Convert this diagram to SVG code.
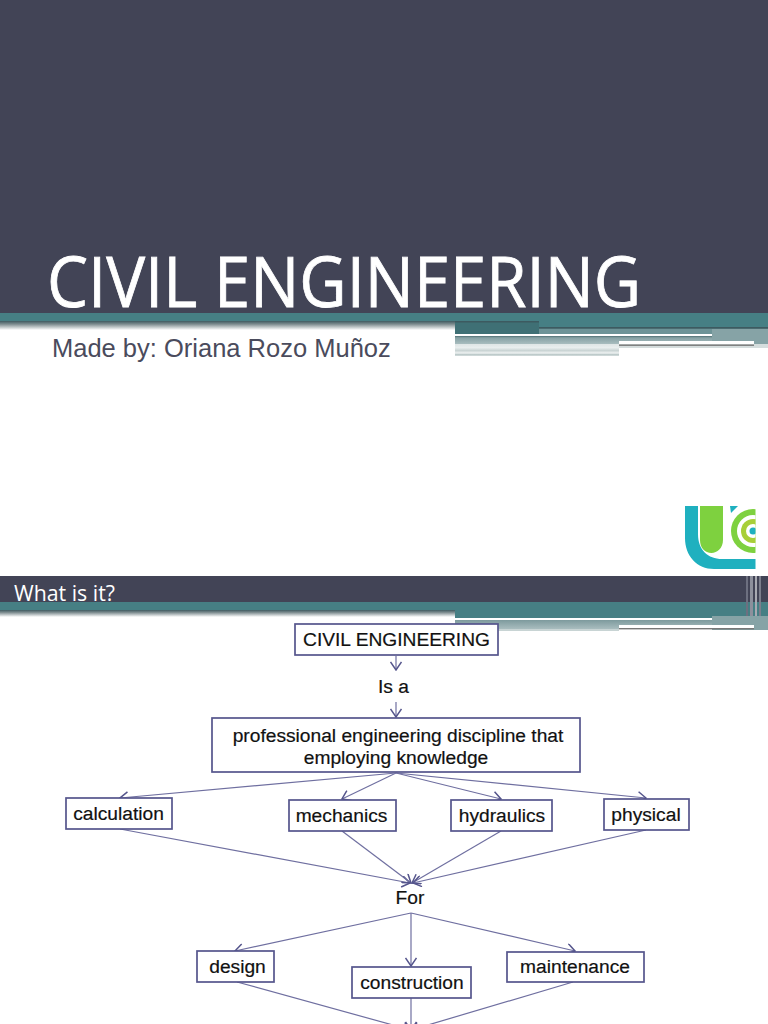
<svg xmlns="http://www.w3.org/2000/svg" width="768" height="1024" viewBox="0 0 768 1024">
<style>
.box{fill:#fff;stroke:#55558c;stroke-width:1.7}
.lbl{font-family:"Liberation Sans",Arial,sans-serif;font-size:19.2px;fill:#111;stroke:#111;stroke-width:.2;text-anchor:middle}
.con{fill:none;stroke:#6f6fa0;stroke-width:1.2;marker-end:url(#arr)}
.dark{fill:#424456}
.teal{fill:#467f84}
.gt{fill:#86a3a6}
.wh{fill:#fff}
.ln{fill:#3d5a60}
</style>
<defs>
<marker id="arr" viewBox="0 0 12 12" refX="11" refY="6" markerWidth="12" markerHeight="12" markerUnits="userSpaceOnUse" orient="auto"><path d="M3 .5L11 6L3 11.500" fill="none" stroke="#55558c" stroke-width="1.5"/></marker>
<linearGradient id="sh" x1="0" y1="0" x2="0" y2="1"><stop offset="0" stop-color="#3f5a60"/><stop offset=".35" stop-color="#7d8c8f"/><stop offset="1" stop-color="#fff"/></linearGradient>
<linearGradient id="st" x1="0" y1="0" x2="0" y2="1"><stop offset="0" stop-color="#dfe6e6"/><stop offset=".3" stop-color="#e9eeee"/><stop offset=".55" stop-color="#c9d4d4"/><stop offset=".75" stop-color="#eef2f2"/><stop offset=".9" stop-color="#b4c3c3"/><stop offset="1" stop-color="#dfe6e6"/></linearGradient>
<linearGradient id="gg" x1="0" y1="0" x2="0" y2="1"><stop offset="0" stop-color="#7d9a9d"/><stop offset="1" stop-color="#a9bdbf"/></linearGradient>
<clipPath id="logo"><rect x="680" y="500" width="75.500" height="72"/></clipPath>
</defs>
<rect width="768" height="1024" fill="#fff"/>

<g id="slide1-header">
<rect class="dark" width="768" height="313"/>
<rect class="teal" y="313" width="768" height="9"/>
<rect y="321" width="455" height="9" fill="url(#sh)"/>
<rect class="teal" x="455" y="321" width="313" height="7"/>
<rect x="455" y="322" width="84" height="12" fill="#3f7075"/>
<rect class="ln" x="455" y="321" width="84" height="1.500"/>
<rect x="539" y="328" width="229" height="6" fill="#6d9397"/>
<rect class="ln" x="539" y="327" width="229" height="1.700"/>
<rect class="gt" x="712" y="329" width="56" height="17"/>
<rect x="455" y="336" width="257" height="8" fill="url(#gg)"/>
<rect class="wh" x="455" y="334" width="257" height="2.200"/>
<rect x="455" y="336" width="257" height="1.200" fill="#5f7d81"/>
<rect x="455" y="344" width="164" height="12" fill="url(#st)"/>
<rect x="619" y="344" width="149" height="4" fill="#d5dddd"/>
<rect class="wh" x="619" y="341" width="135" height="3"/>
<rect x="619" y="344.500" width="135" height="1.400" fill="#777"/>
</g>

<text id="title" x="47" y="307" font-family="'Open Sans',sans-serif" font-size="70" fill="#fff" stroke="#fff" stroke-width=".8" textLength="594" lengthAdjust="spacingAndGlyphs">CIVIL ENGINEERING</text>
<text id="author" x="52" y="356.500" font-family="'Liberation Sans',Arial,sans-serif" font-size="25.500" fill="#4a4b5c">Made by: Oriana Rozo Muñoz</text>

<g id="logo-mark" clip-path="url(#logo)">
<path d="M685 506H698V534C698 550 708 559 722 559H756V569H714C697 569 685 556 685 538Z" fill="#1fb0bf"/>
<path d="M700 506H723V540C723 548 717 553 711.500 553C705 553 700 548 700 540Z" fill="#7ed13f"/>
<path d="M730 506H738L731 513Z" fill="#1fb0bf"/>
<circle cx="753" cy="531" r="22" fill="#7ed13f"/>
<circle cx="753" cy="531" r="16" fill="#fff"/>
<circle cx="753" cy="531" r="12" fill="#a8cf38"/>
<circle cx="753" cy="531" r="7" fill="#fff"/>
<circle cx="753" cy="531" r="3.500" fill="#1fb0bf"/>
</g>

<g id="slide2-header">
<rect class="dark" y="576" width="768" height="26"/>
<rect class="teal" y="602" width="768" height="9"/>
<rect y="610" width="455" height="7" fill="url(#sh)"/>
<rect class="teal" x="455" y="610" width="313" height="8"/>
<rect x="455" y="620" width="257" height="9" fill="url(#gg)"/>
<rect class="gt" x="712" y="616" width="56" height="14"/>
<rect class="wh" x="455" y="618" width="257" height="2"/>
<rect x="455" y="629" width="164" height="2" fill="#c8d4d4"/>
<rect class="wh" x="619" y="625" width="135" height="3"/>
<rect x="619" y="628" width="135" height="1.400" fill="#777"/>
<rect x="746" y="576" width="2" height="40" fill="#6d7080"/>
<rect x="750" y="576" width="3" height="40" fill="#8d909c"/>
<rect x="755" y="576" width="2" height="40" fill="#a8aab2"/>
<rect x="759" y="576" width="2" height="40" fill="#7b7e8c"/>
<text x="14" y="601" font-family="'Open Sans',sans-serif" font-size="21" fill="#fff" textLength="101" lengthAdjust="spacingAndGlyphs">What is it?</text>
</g>

<g id="connectors">
<path class="con" d="M396 656V670"/>
<path class="con" d="M396 702V717"/>
<path class="con" d="M396 773L120 798"/>
<path class="con" d="M396 773L342 799"/>
<path class="con" d="M396 773L501 799"/>
<path class="con" d="M396 773L646 798"/>
<path class="con" d="M120 829L410 883"/>
<path class="con" d="M342 831L411 883"/>
<path class="con" d="M501 831L412 883"/>
<path class="con" d="M646 830L413 883"/>
<path class="con" d="M411 913L235 951"/>
<path class="con" d="M411 913V966"/>
<path class="con" d="M411 913L575 951"/>
<path class="con" d="M237 982L411 1030"/>
<path class="con" d="M411 998V1030"/>
<path class="con" d="M573 982L411 1030"/>
</g>

<g id="n-civil"><rect class="box" x="295" y="624" width="203" height="31"/><text class="lbl" x="396.500" y="646">CIVIL ENGINEERING</text></g>
<g id="n-isa"><text class="lbl" x="393.500" y="693">Is a</text></g>
<g id="n-discipline"><rect class="box" x="212" y="718" width="368" height="54"/><text class="lbl" x="398" y="742">professional engineering discipline that</text><text class="lbl" x="396" y="764">employing knowledge</text></g>
<g id="n-calculation"><rect class="box" x="66" y="798" width="106" height="31"/><text class="lbl" x="118.500" y="820">calculation</text></g>
<g id="n-mechanics"><rect class="box" x="289" y="800" width="107" height="31"/><text class="lbl" x="341.500" y="822">mechanics</text></g>
<g id="n-hydraulics"><rect class="box" x="451" y="800" width="101" height="31"/><text class="lbl" x="502" y="822">hydraulics</text></g>
<g id="n-physical"><rect class="box" x="604" y="799" width="85" height="31"/><text class="lbl" x="646" y="821">physical</text></g>
<g id="n-for"><text class="lbl" x="410" y="904">For</text></g>
<g id="n-design"><rect class="box" x="197" y="951" width="77" height="31"/><text class="lbl" x="237.500" y="973">design</text></g>
<g id="n-construction"><rect class="box" x="352" y="967" width="119" height="31"/><text class="lbl" x="412" y="989">construction</text></g>
<g id="n-maintenance"><rect class="box" x="507" y="952" width="137" height="30"/><text class="lbl" x="575" y="973">maintenance</text></g>
</svg>
